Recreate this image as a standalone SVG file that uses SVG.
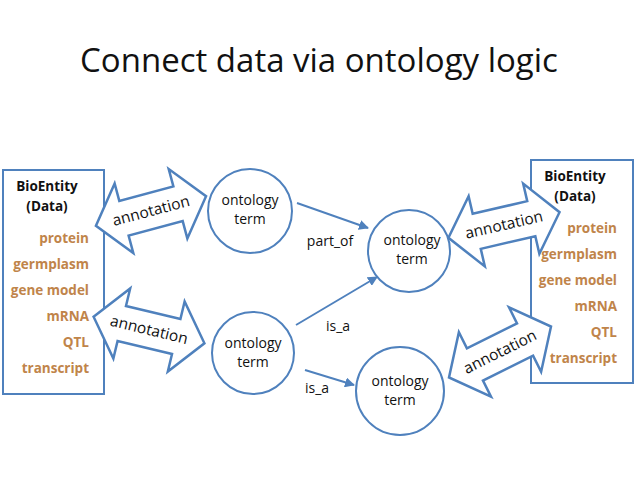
<svg xmlns="http://www.w3.org/2000/svg" width="638" height="478" viewBox="0 0 638 478">
<style>
text{font-family:"Open Sans","Liberation Sans",sans-serif;}
.box{fill:#fff;stroke:#4f81bd;stroke-width:2}
.c{fill:#fff;stroke:#4f81bd;stroke-width:2}
.t{font-size:14px;fill:#111;text-anchor:middle}
.h{font-size:13.5px;font-weight:bold;fill:#111;text-anchor:middle}
.o{font-size:13.5px;font-weight:bold;fill:#c0844a;text-anchor:end}
.a{fill:#fff;stroke:#4f81bd;stroke-width:2.5;stroke-linejoin:miter}
.at{font-size:15.5px;fill:#111;text-anchor:middle}
.e{stroke:#4f81bd;stroke-width:2;fill:none;marker-end:url(#m)}
</style>
<defs>
<marker id="m" viewBox="0 0 10 10" refX="9" refY="5" markerWidth="5" markerHeight="5" orient="auto"><path d="M0,0L10,5L0,10z" fill="#4f81bd"/></marker>
<polygon id="da" points="-57,0 -28,-36 -28,-18 28,-18 28,-36 57,0 28,36 28,18 -28,18 -28,36"/>
</defs>
<rect width="638" height="478" fill="#fff"/>
<text x="319" y="72" style="font-size:33px;fill:#111;text-anchor:middle">Connect data via ontology logic</text>
<g id="leftbox"><rect class="box" x="3" y="170" width="101" height="224"/>
<text class="h" x="47" y="191">BioEntity</text><text class="h" x="47" y="211">(Data)</text>
<text class="o" x="89" y="243">protein</text><text class="o" x="89" y="269">germplasm</text><text class="o" x="89" y="295">gene model</text><text class="o" x="89" y="321">mRNA</text><text class="o" x="89" y="347">QTL</text><text class="o" x="89" y="373">transcript</text></g>
<g id="rightbox"><rect class="box" x="531" y="160" width="102" height="223"/>
<text class="h" x="575" y="181">BioEntity</text><text class="h" x="575" y="201">(Data)</text>
<text class="o" x="617" y="233">protein</text><text class="o" x="617" y="259">germplasm</text><text class="o" x="617" y="285">gene model</text><text class="o" x="617" y="311">mRNA</text><text class="o" x="617" y="337">QTL</text><text class="o" x="617" y="363">transcript</text></g>
<g id="ann1" transform="translate(151,211) rotate(-15)"><use href="#da" class="a"/><text class="at" y="5">annotation</text></g>
<g id="ann2" transform="translate(149,330) rotate(13.5)"><use href="#da" class="a"/><text class="at" y="5">annotation</text></g>
<g id="ann3" transform="translate(504,225) rotate(-13)"><use href="#da" class="a"/><text class="at" y="5">annotation</text></g>
<g id="ann4" transform="translate(500,352) rotate(-26.5)"><use href="#da" class="a"/><text class="at" y="5">annotation</text></g>
<g id="n1"><circle class="c" cx="250" cy="211" r="42"/><text class="t" x="250" y="205">ontology</text><text class="t" x="250" y="224">term</text></g>
<g id="n2"><circle class="c" cx="253" cy="353" r="41"/><text class="t" x="253" y="348">ontology</text><text class="t" x="253" y="367">term</text></g>
<g id="n3"><circle class="c" cx="409" cy="251" r="41"/><text class="t" x="412" y="245">ontology</text><text class="t" x="412" y="264">term</text></g>
<g id="n4"><circle class="c" cx="400" cy="391" r="44"/><text class="t" x="400" y="386">ontology</text><text class="t" x="400" y="405">term</text></g>
<g id="edges">
<path class="e" d="M297,203L368,228"/>
<path class="e" d="M296,325L377,277"/>
<path class="e" d="M305,370L354,385"/>
<text class="t" x="330" y="246">part_of</text>
<text class="t" x="338" y="331">is_a</text>
<text class="t" x="317" y="393">is_a</text>
</g>
</svg>
